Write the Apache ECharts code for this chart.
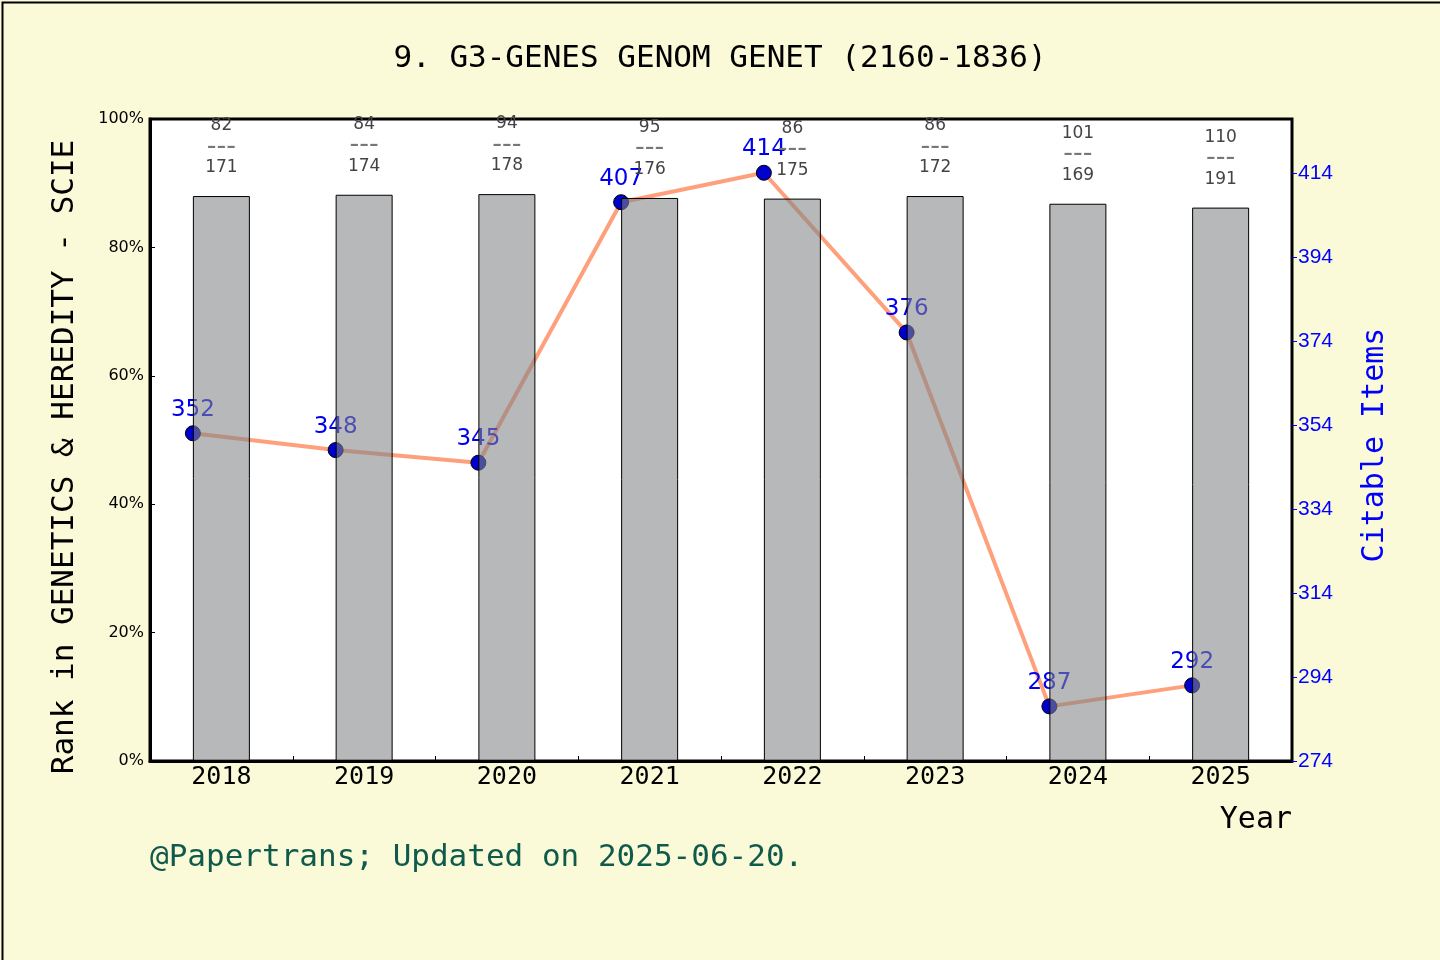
<!DOCTYPE html>
<html>
<head>
<meta charset="utf-8">
<script src="https://cdn.jsdelivr.net/npm/echarts@6/dist/echarts.min.js"></script>
<style>
html,body{margin:0;padding:0;background:#fafad8;}
#chart{width:1440px;height:960px;}
</style>
</head>
<body>
<div id="chart"></div>
<script>
const years = ['2018','2019','2020','2021','2022','2023','2024','2025'];
const barPercent = [88.0, 88.2, 88.3, 87.7, 87.6, 88.0, 86.8, 86.2];
const rankInCategory = [82, 84, 94, 95, 86, 86, 101, 110];
const categoryTotal = [171, 174, 178, 176, 175, 172, 169, 191];
const citableItems = [352, 348, 345, 407, 414, 376, 287, 292];
const leftTicks = [0, 20, 40, 60, 80, 100];
const rightTicks = [274, 294, 314, 334, 354, 374, 394, 414];

const chart = echarts.init(document.getElementById('chart'));
const mono = 'DejaVu Sans Mono';
const shift = 28.5;

const option = {
  backgroundColor: '#fafad8',
  animation: false,
  title: {
    text: '9. G3-GENES GENOM GENET (2160-1836)',
    left: 'center', top: 38,
    textStyle: {fontFamily: mono, fontSize: 31, fontWeight: 'normal', color: '#000'}
  },
  graphic: [
    {type: 'rect', left: 0, top: 0, shape: {width: 1440, height: 960},
     style: {fill: 'none', stroke: '#000', lineWidth: 2}, silent: true},
    {type: 'text', left: 150, top: 842,
     style: {text: '@Papertrans; Updated on 2025-06-20.', fontFamily: mono, fontSize: 31, fill: '#105a4c'}}
  ],
  grid: [
    {left: 150, right: 148, top: 119, bottom: 199, show: true, backgroundColor: '#fff', borderColor: '#000', borderWidth: 3},
    {left: 150 - shift, right: 148 + shift, top: 119, bottom: 199}
  ],
  xAxis: [
    {type: 'category', gridIndex: 0, data: years,
     name: 'Year', nameLocation: 'end', nameGap: 0,
     nameTextStyle: {fontFamily: mono, fontSize: 30, color: '#000', align: 'right', verticalAlign: 'top', padding: [44, 0, 0, 0]},
     axisLine: {lineStyle: {color: '#000', width: 3}},
     axisTick: {show: true, inside: true, length: 5, alignWithLabel: false, lineStyle: {color: '#000', width: 1}},
     axisLabel: {fontFamily: mono, fontSize: 25, color: '#000', margin: 4}},
    {type: 'category', gridIndex: 1, data: years, show: false}
  ],
  yAxis: [
    {type: 'value', gridIndex: 0, min: 0, max: 100, interval: 20,
     name: 'Rank in GENETICS & HEREDITY - SCIE', nameLocation: 'middle', nameGap: 70, nameRotate: 90,
     nameTextStyle: {fontFamily: mono, fontSize: 31, color: '#000', padding: [0, 34, 0, 0]},
     axisLine: {show: true, lineStyle: {color: '#000', width: 3}},
     axisTick: {show: true, inside: true, length: 5, lineStyle: {color: '#000', width: 1}},
     splitLine: {show: false},
     axisLabel: {formatter: '{value}%', fontFamily: 'DejaVu Sans', fontSize: 16, color: '#000', margin: 6}},
    {type: 'value', gridIndex: 1, position: 'right', offset: shift, min: 274, max: 426.8, interval: 20,
     name: 'Citable Items', nameLocation: 'middle', nameGap: 68, nameRotate: 90,
     nameTextStyle: {fontFamily: mono, fontSize: 30, color: '#0000ff', padding: [0, 10, 0, 0]},
     axisLine: {show: false},
     axisTick: {show: true, length: 5, lineStyle: {color: '#0000ff', width: 1}},
     splitLine: {show: false},
     axisLabel: {showMaxLabel: false, fontFamily: 'Liberation Sans Narrow, Liberation Sans', fontSize: 21, color: '#0000ff', margin: 6,
       formatter: v => rightTicks.includes(v) ? String(v) : ''}}
  ],
  series: [
    {type: 'line', xAxisIndex: 1, yAxisIndex: 1, z: 2,
     data: citableItems,
     lineStyle: {color: 'rgba(255,150,110,0.9)', width: 4},
     symbol: 'circle', symbolSize: 15,
     itemStyle: {color: '#0000cd', borderColor: '#000', borderWidth: 1},
     label: {show: true, position: 'top', distance: 4, fontFamily: 'DejaVu Sans', fontSize: 23, color: '#0000ee'}},
    {type: 'bar', xAxisIndex: 0, yAxisIndex: 0, z: 5,
     data: barPercent, barWidth: 57,
     itemStyle: {color: 'rgba(130,132,134,0.58)', borderColor: '#000', borderWidth: 1},
     label: {show: true, position: 'top', distance: 18, fontFamily: 'DejaVu Sans', fontSize: 17, lineHeight: 21, color: '#444',
       formatter: p => rankInCategory[p.dataIndex] + '\n{d|---}\n' + categoryTotal[p.dataIndex],
       rich: {d: {fontFamily: 'DejaVu Sans', fontSize: 27, lineHeight: 21, color: '#777'}}}}
  ]
};
chart.setOption(option);
</script>
</body>
</html>
